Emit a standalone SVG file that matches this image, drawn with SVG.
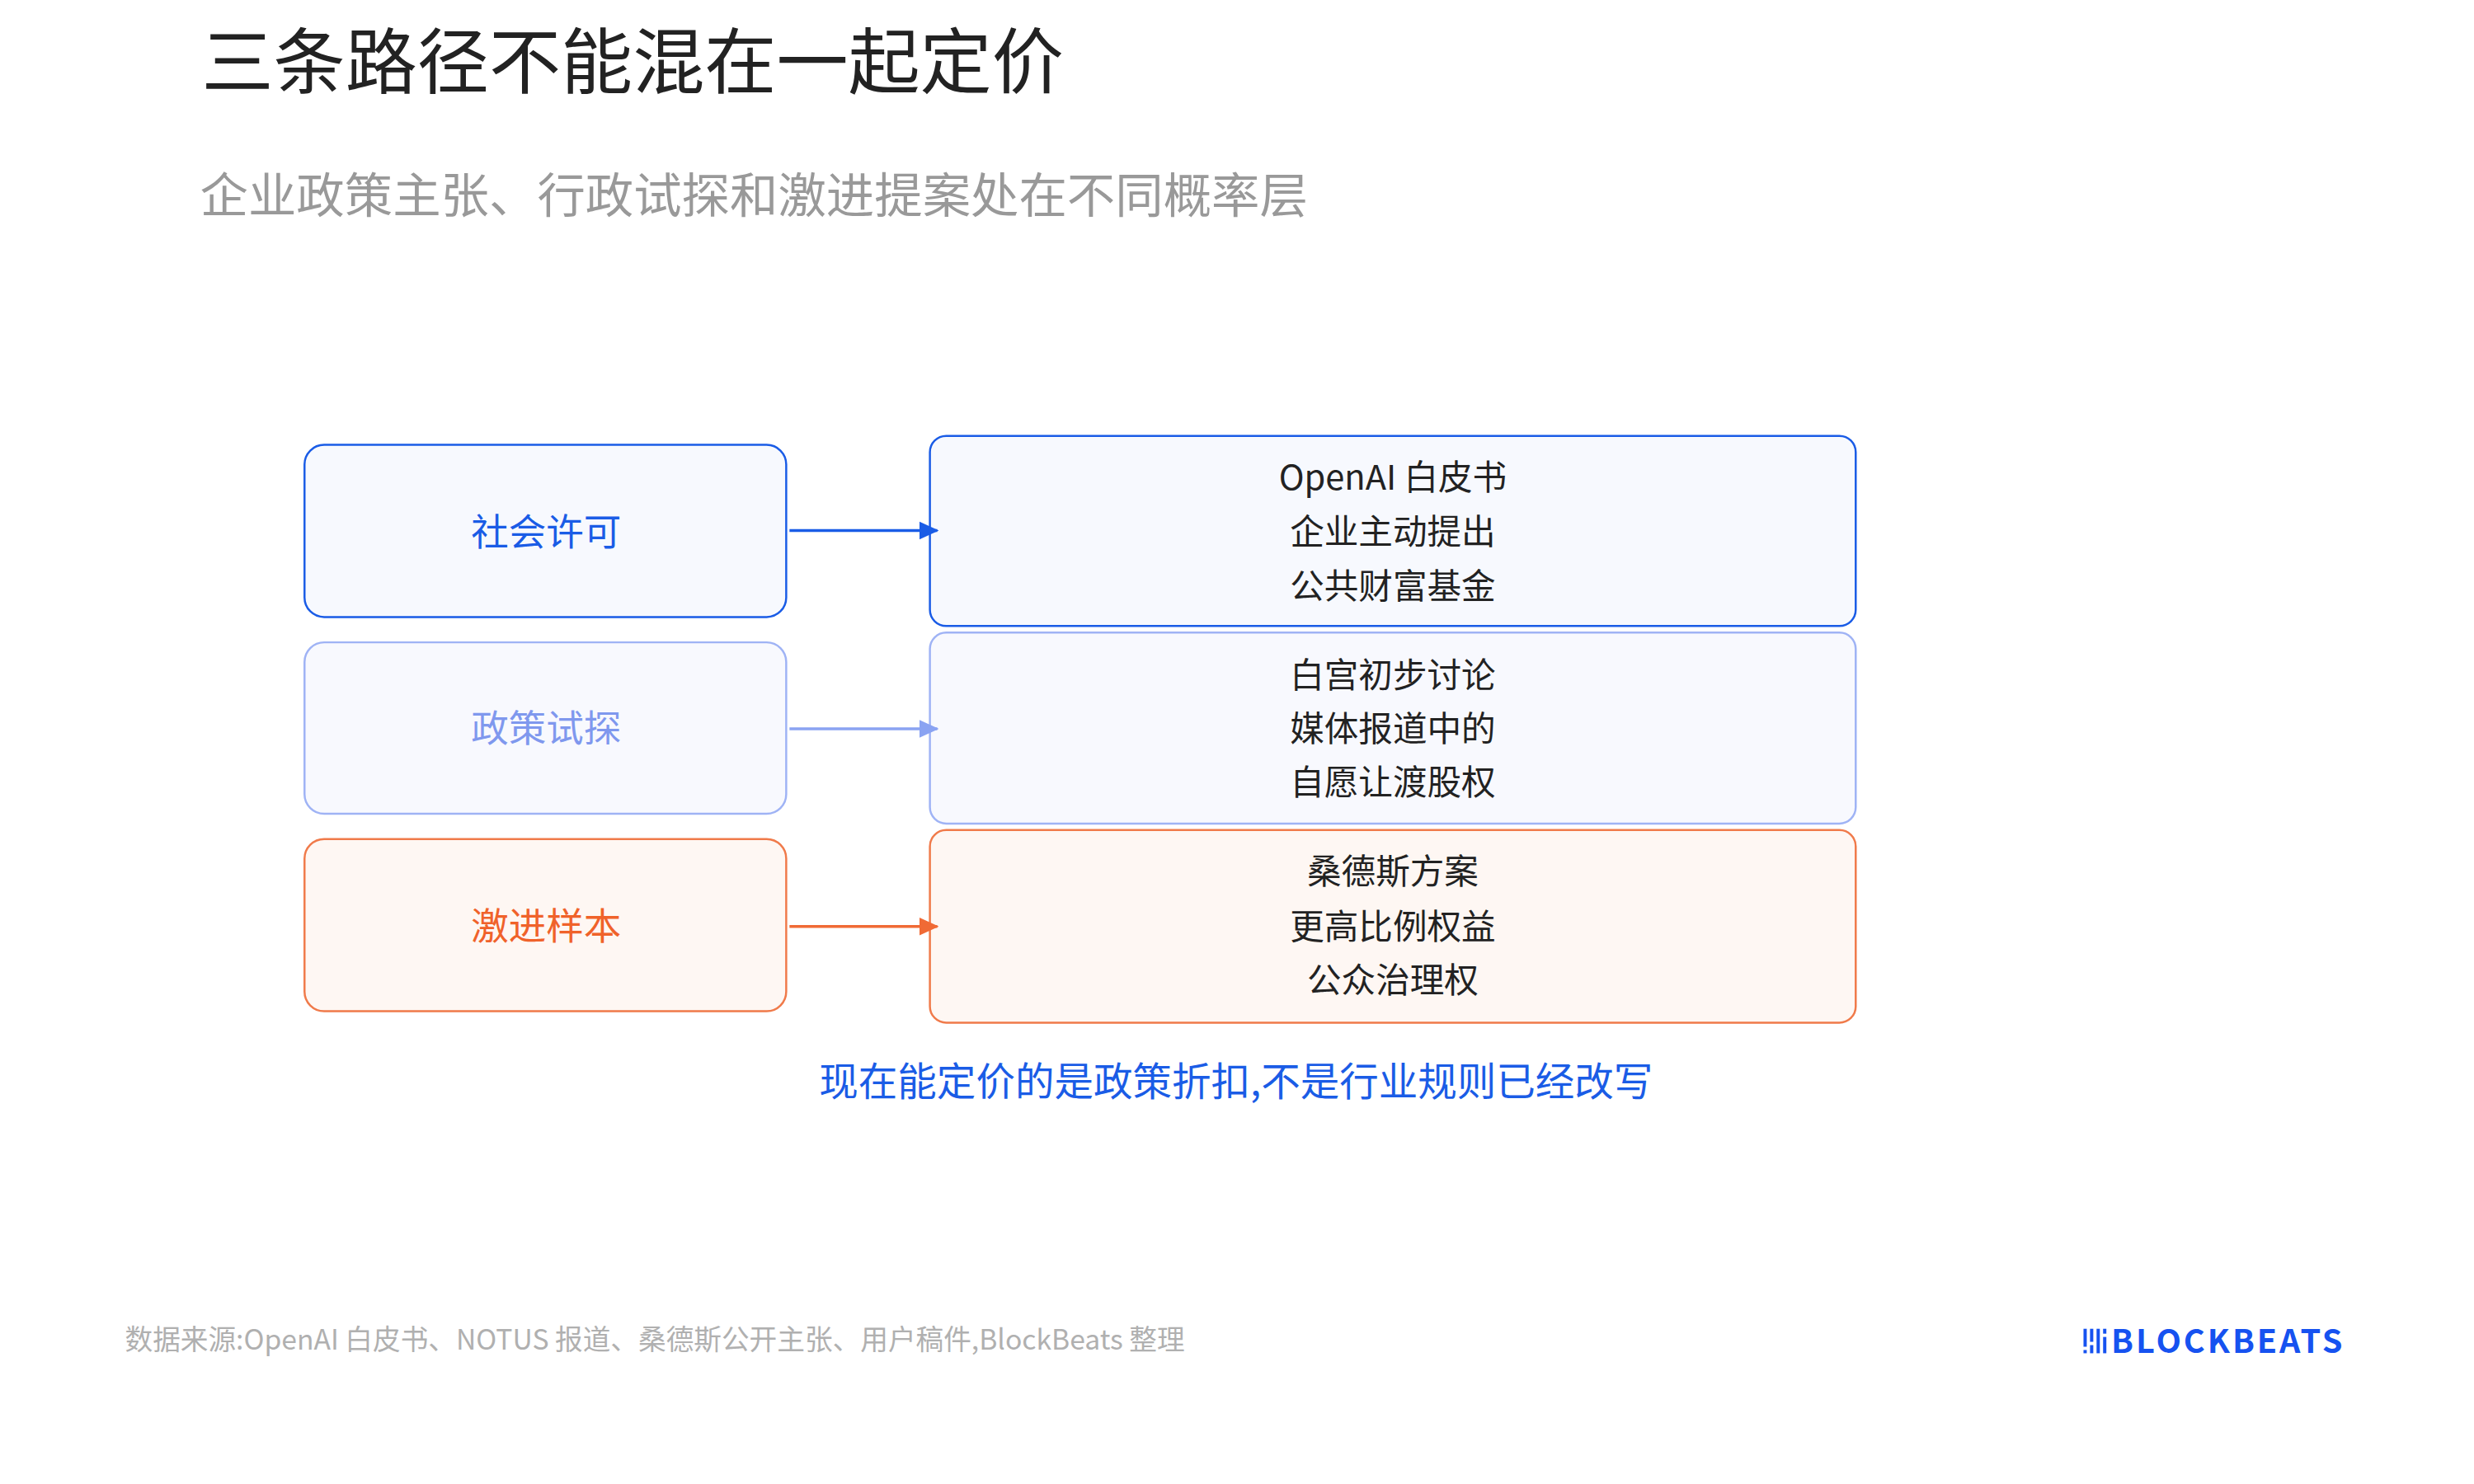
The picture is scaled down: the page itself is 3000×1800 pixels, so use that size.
<svg xmlns="http://www.w3.org/2000/svg" width="3000" height="1800" viewBox="0 0 3000 1800">
<style>
text{font-family:"Noto Sans CJK SC","Noto Sans",sans-serif}
.t{font-size:88px;fill:#222}
.s{font-size:59px;fill:#999}
.l{font-size:46px;text-anchor:middle;dominant-baseline:central}
.r{font-size:42px;fill:#222;text-anchor:middle;dominant-baseline:central}
.b rect{stroke-width:2.5}
</style>
<defs>
<marker id="m1" markerWidth="24" markerHeight="24" refX="22" refY="12" orient="auto" markerUnits="userSpaceOnUse" viewBox="0 0 24 24"><path d="M0,1L24,12L0,23z" fill="#1a5ce6"/></marker>
<marker id="m2" markerWidth="24" markerHeight="24" refX="22" refY="12" orient="auto" markerUnits="userSpaceOnUse" viewBox="0 0 24 24"><path d="M0,1L24,12L0,23z" fill="#8aa3f2"/></marker>
<marker id="m3" markerWidth="24" markerHeight="24" refX="22" refY="12" orient="auto" markerUnits="userSpaceOnUse" viewBox="0 0 24 24"><path d="M0,1L24,12L0,23z" fill="#f06a35"/></marker>
</defs>
<rect width="3000" height="1800" fill="#fff"/>
<g transform="scale(0.99)">
<text class="t" x="247" y="108">三条路径不能混在一起定价</text>
<text class="s" x="245" y="261">企业政策主张、行政试探和激进提案处在不同概率层</text>

<g id="n1" class="b"><rect x="373" y="545" width="590" height="211" rx="24" fill="#f7f9fe" stroke="#1a5ce6"/><text class="l" x="669" y="648" fill="#1a5ce6">社会许可</text></g>
<g id="n2" class="b"><rect x="373" y="787" width="590" height="210" rx="24" fill="#f8f9fe" stroke="#9fb3f5"/><text class="l" x="669" y="889" fill="#7f98ee">政策试探</text></g>
<g id="n3" class="b"><rect x="373" y="1028" width="590" height="211" rx="24" fill="#fef7f3" stroke="#f07a4a"/><text class="l" x="669" y="1131" fill="#f0622a">激进样本</text></g>

<g id="r1" class="b"><rect x="1139" y="534" width="1134" height="233" rx="20" fill="#f7f9fe" stroke="#1a5ce6"/>
<text class="r" x="1706" y="582">OpenAI 白皮书</text><text class="r" x="1706" y="649">企业主动提出</text><text class="r" x="1706" y="715">公共财富基金</text></g>
<g id="r2" class="b"><rect x="1139" y="775" width="1134" height="234" rx="20" fill="#f8f9fe" stroke="#9fb3f5"/>
<text class="r" x="1706" y="824">白宫初步讨论</text><text class="r" x="1706" y="890">媒体报道中的</text><text class="r" x="1706" y="956">自愿让渡股权</text></g>
<g id="r3" class="b"><rect x="1139" y="1017" width="1134" height="236" rx="20" fill="#fef7f3" stroke="#f07a4a"/>
<text class="r" x="1706" y="1065">桑德斯方案</text><text class="r" x="1706" y="1132">更高比例权益</text><text class="r" x="1706" y="1198">公众治理权</text></g>

<g id="connectors" stroke-width="3.5">
<line x1="967" y1="650" x2="1148" y2="650" stroke="#1a5ce6" marker-end="url(#m1)"/>
<line x1="967" y1="893" x2="1148" y2="893" stroke="#8aa3f2" marker-end="url(#m2)"/>
<line x1="967" y1="1135" x2="1148" y2="1135" stroke="#f06a35" marker-end="url(#m3)"/>
</g>

<text x="1514" y="1322" font-size="48" fill="#1a5ce6" text-anchor="middle" dominant-baseline="central">现在能定价的是政策折扣,不是行业规则已经改写</text>
<text x="153" y="1654" font-size="34" fill="#b0b0b0">数据来源:OpenAI 白皮书、NOTUS 报道、桑德斯公开主张、用户稿件,BlockBeats 整理</text>
<g id="logo" fill="#1652f0">
<rect x="2552" y="1628" width="4" height="22"/><rect x="2552" y="1654" width="4" height="4"/>
<rect x="2560" y="1628" width="4" height="16"/><rect x="2560" y="1648" width="4" height="10"/>
<rect x="2568" y="1628" width="4" height="30"/>
<rect x="2576" y="1628" width="4" height="6"/><rect x="2576" y="1638" width="4" height="20"/>
<text x="2586" y="1658" font-family="Inter,sans-serif" font-weight="700" font-size="40" letter-spacing="3">BLOCKBEATS</text>
</g>
</g>
</svg>
